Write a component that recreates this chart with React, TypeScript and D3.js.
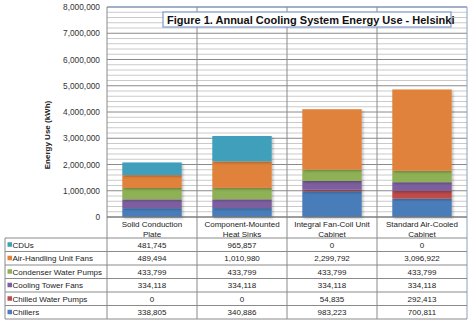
import React from "react";
import * as d3 from "d3";

const categories = [
  ["Solid Conduction", "Plate"],
  ["Component-Mounted", "Heat Sinks"],
  ["Integral Fan-Coil Unit", "Cabinet"],
  ["Standard Air-Cooled", "Cabinet"],
];
const seriesNames = ["Chillers", "Chilled Water Pumps", "Cooling Tower Fans", "Condenser Water Pumps", "Air-Handling Unit Fans", "CDUs"];
const chillers = [338805, 340886, 983223, 700811];
const chilledWaterPumps = [0, 0, 54835, 292413];
const coolingTowerFans = [334118, 334118, 334118, 334118];
const condenserWaterPumps = [433799, 433799, 433799, 433799];
const airHandlingUnitFans = [489494, 1010980, 2299792, 3096922];
const cdus = [481745, 965857, 0, 0];
const yTicks = [0, 1000000, 2000000, 3000000, 4000000, 5000000, 6000000, 7000000, 8000000];
const colors = ["#4a7dba", "#be4b48", "#7d5fa0", "#8fb155", "#e0823a", "#3f9fbb"];

const seriesValues = [chillers, chilledWaterPumps, coolingTowerFans, condenserWaterPumps, airHandlingUnitFans, cdus];

export default function App() {
  const W = 474, H = 322;
  const left = 107, right = 467, top = 7, bottom = 217;
  const x = d3.scaleBand<number>().domain(d3.range(categories.length)).range([left, right]).paddingInner(0).paddingOuter(0);
  const y = d3.scaleLinear().domain([0, 8000000]).range([bottom, top]);
  const bw = x.bandwidth() * 0.66;
  const minor = d3.range(0, 8000001, 200000);
  const fmt = d3.format(",");
  const font = "'Liberation Sans', Arial, sans-serif";

  const data = categories.map((_, i) => {
    const o: any = {};
    seriesNames.forEach((s, k) => (o[s] = seriesValues[k][i]));
    return o;
  });
  const stacked = d3.stack<any>().keys(seriesNames)(data);

  const tableTop = 238;
  const rowH = 13.5;
  const tableRows = [...seriesNames].reverse();
  const tableLeft = 5;

  return (
    <svg width={W} height={H} style={{ position: "absolute", left: 0, top: 0, background: "#fff" }} fontFamily={font}>
      <defs>
        <filter id="sh" x="-10%" y="-10%" width="130%" height="130%">
          <feDropShadow dx="1.5" dy="1.5" stdDeviation="1" floodColor="#000" floodOpacity="0.25" />
        </filter>
      </defs>
      {minor.map((v) => (
        <line key={v} x1={left} x2={right} y1={y(v)} y2={y(v)} stroke={v % 1000000 === 0 ? "#8a8a8a" : "#bdbdbd"} strokeWidth={v % 1000000 === 0 ? 1 : 0.8} />
      ))}
      <line x1={left} x2={right} y1={top} y2={top} stroke="#7f9cc6" strokeWidth={1} />
      {yTicks.map((v) => (
        <text key={v} x={100} y={y(v) + 3} textAnchor="end" fontSize={8.3} fill="#333">{fmt(v)}</text>
      ))}
      <text transform={`translate(50,135) rotate(-90)`} textAnchor="middle" fontSize={8} fontWeight="bold" fill="#222">Energy Use (kWh)</text>
      {stacked.map((layer, k) => (
        <g key={layer.key} filter="url(#sh)">
          {layer.map((d, i) => (
            <rect key={i} x={(x(i) as number) + (x.bandwidth() - bw) / 2} width={bw} y={y(d[1])} height={Math.max(0, y(d[0]) - y(d[1]))} fill={colors[k]} />
          ))}
        </g>
      ))}
      {d3.range(categories.length + 1).map((i) => (
        <line key={i} x1={left + i * x.bandwidth()} x2={left + i * x.bandwidth()} y1={top} y2={tableTop + rowH * 6} stroke={i === categories.length ? "#8aa0c0" : "#8a8a8a"} strokeWidth={1} />
      ))}
      <line x1={left} x2={right} y1={bottom} y2={bottom} stroke="#777" strokeWidth={1} />
      <rect x={163} y={12} width={288} height={15} fill="#fff" stroke="#7f9cc6" strokeWidth={1.2} />
      <text x={167} y={23.5} fontSize={11} fontWeight="bold" fill="#111">Figure 1. Annual Cooling System Energy Use - Helsinki</text>
      {categories.map((c, i) => (
        <g key={i}>
          <text x={(x(i) as number) + x.bandwidth() / 2} y={bottom + 9.5} textAnchor="middle" fontSize={8} fill="#222">{c[0]}</text>
          <text x={(x(i) as number) + x.bandwidth() / 2} y={bottom + 19.5} textAnchor="middle" fontSize={8} fill="#222">{c[1]}</text>
        </g>
      ))}
      {d3.range(7).map((r) => (
        <line key={r} x1={tableLeft} x2={right} y1={tableTop + r * rowH} y2={tableTop + r * rowH} stroke="#8a8a8a" strokeWidth={1} />
      ))}
      <line x1={tableLeft} x2={tableLeft} y1={tableTop} y2={tableTop + 6 * rowH} stroke="#8a8a8a" strokeWidth={1} />
      {tableRows.map((s, r) => {
        const k = seriesNames.indexOf(s);
        const cy = tableTop + r * rowH + rowH / 2;
        return (
          <g key={s}>
            <rect x={7.5} y={cy - 2.5} width={4.5} height={4.5} fill={colors[k]} />
            <text x={12.5} y={cy + 3} fontSize={8} fill="#222">{s}</text>
            {seriesValues[k].map((v, i) => (
              <text key={i} x={(x(i) as number) + x.bandwidth() / 2} y={cy + 3} textAnchor="middle" fontSize={8} fill="#222">{fmt(v)}</text>
            ))}
          </g>
        );
      })}
    </svg>
  );
}
